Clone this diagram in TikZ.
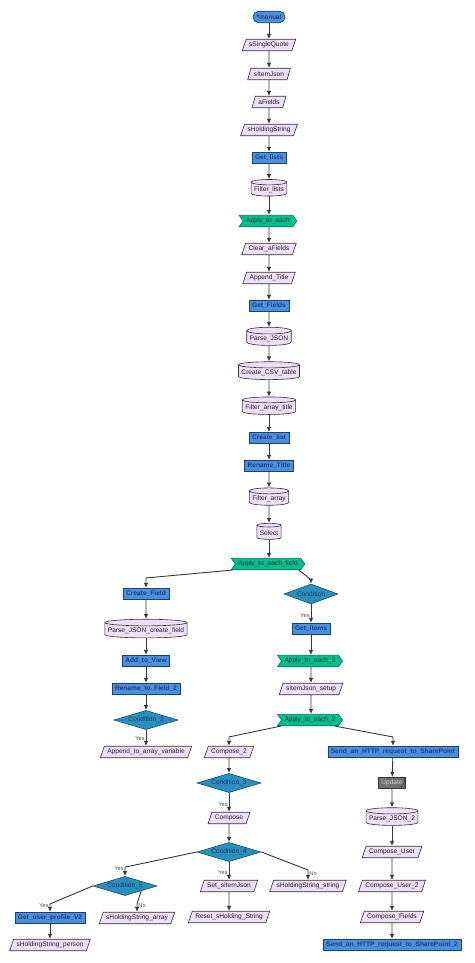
\documentclass[tikz,border=0pt]{standalone}
\usepackage{fontspec}
\setmainfont{Liberation Sans}
\usepackage{xcolor}
\usetikzlibrary{arrows.meta,positioning,shapes.geometric,shapes.symbols}
\definecolor{actfill}{HTML}{4A90E2}
\definecolor{actline}{HTML}{1F3F6E}
\definecolor{varfill}{HTML}{ECDFF7}
\definecolor{loopfill}{HTML}{00C08B}
\definecolor{loopline}{HTML}{00795A}
\definecolor{condfill}{HTML}{2A8FBD}
\definecolor{condline}{HTML}{174F6B}
\definecolor{condtext}{HTML}{123E66}
\definecolor{updfill}{HTML}{707070}
\tikzset{
  nodebox/.style={draw=black!80, line width=0.6pt, font=\fontsize{6.6}{7}\selectfont, text=black!85, inner xsep=3pt, inner ysep=1.8pt, minimum height=11.5pt},
  startnode/.style={nodebox, fill=actfill, draw=actline, rounded corners=5.5pt, minimum width=32pt},
  actnode/.style={nodebox, fill=actfill, draw=actline, font=\fontsize{6.6}{7}\selectfont\bfseries, text=actline},
  varnode/.style={nodebox, trapezium, trapezium left angle=68, trapezium right angle=112, trapezium stretches body, fill=varfill},
  datanode/.style={nodebox, cylinder, shape border rotate=90, aspect=0.15, fill=varfill, minimum height=16pt},
  loopnode/.style={nodebox, signal, signal to=east, signal from=west, signal pointer angle=110, fill=loopfill, draw=loopline, text=black!80},
  condnode/.style={nodebox, diamond, aspect=3, inner sep=0.5pt, fill=condfill, draw=condline, text=condtext, minimum width=64pt, minimum height=18pt},
  updnode/.style={nodebox, fill=updfill, text=black!20},
  arc/.style={-{Latex[length=5pt,width=4.4pt]}, line width=0.9pt, draw=black!78},
  lbl/.style={font=\fontsize{5.6}{6}\selectfont, text=black!70, inner sep=1pt}
}
\begin{document}
\begin{tikzpicture}[x=1pt,y=-1pt]
  \useasboundingbox (0,0) rectangle (474,963);
  \node[startnode] (manual) at (269,17) {*manual};
  \node[varnode] (squote) at (269,45) {sSingleQuote};
  \node[varnode] (itemjson) at (269,74) {sItemJson};
  \node[varnode] (afields) at (269,102) {aFields};
  \node[varnode] (holding) at (269,130) {sHoldingString};
  \node[actnode] (getlists) at (269,158) {Get\_lists};
  \node[datanode] (filterlists) at (269,190) {Filter\_lists};
  \node[loopnode] (eachloop) at (268,221) {Apply\_to\_each};
  \node[varnode] (clearaf) at (269,249) {Clear\_aFields};
  \node[varnode] (apptitle) at (269,278) {Append\_Title};
  \node[actnode] (getfields) at (269,306) {Get\_Fields};
  \node[datanode] (parsejson) at (269,339) {Parse\_JSON};
  \node[datanode, aspect=0.1] (csvtable) at (269,373) {Create\_CSV\_table};
  \node[datanode, aspect=0.11] (filtertitle) at (269,408) {Filter\_array\_title};
  \node[actnode] (createlist) at (269,438) {Create\_list};
  \node[actnode] (renametitle) at (269,466) {Rename\_Title};
  \node[datanode] (filterarr) at (269,499) {Filter\_array};
  \node[datanode] (select) at (269,533) {Select};
  \node[loopnode] (fieldloop) at (268,564) {Apply\_to\_each\_field};

  \node[actnode] (createfield) at (146,594) {Create\_Field};
  \node[datanode, aspect=0.08] (parsefield) at (146,631) {Parse\_JSON\_create\_field};
  \node[actnode] (addview) at (146,661) {Add\_to\_View};
  \node[actnode] (renamefield) at (146,689) {Rename\_to\_Field\_2};
  \node[condnode] (cond2) at (146,720) {Condition\_2};
  \node[varnode] (appendarr) at (146,752) {Append\_to\_array\_variable};

  \node[condnode, minimum width=54pt, minimum height=20pt] (cond) at (311,594) {Condition};
  \node[actnode] (getitems) at (311,629) {Get\_items};
  \node[loopnode] (loop3) at (310,661) {Apply\_to\_each\_3};
  \node[varnode] (itemsetup) at (311,689) {sItemJson\_setup};
  \node[loopnode] (loop2) at (310,720) {Apply\_to\_each\_2};

  \node[varnode] (compose2) at (229,752) {Compose\_2};
  \node[condnode] (cond3) at (229,783) {Condition\_3};
  \node[varnode] (compose) at (229,818) {Compose};
  \node[condnode] (cond4) at (229,852) {Condition\_4};
  \node[varnode] (setitem) at (229,886) {Set\_sItemJson};
  \node[varnode] (resetholding) at (229,917) {Reset\_sHolding\_String};
  \node[varnode] (hsstring) at (308,886) {sHoldingString\_string};

  \node[condnode] (cond5) at (125,886) {Condition\_5};
  \node[actnode] (userprofile) at (50,918) {Get\_user\_profile\_V2};
  \node[varnode] (hsperson) at (50,945) {sHoldingString\_person};
  \node[varnode] (hsarray) at (137,918) {sHoldingString\_array};

  \node[actnode] (httpreq) at (393,752) {Send\_an\_HTTP\_request\_to\_SharePoint};
  \node[updnode] (update) at (392,783) {Update};
  \draw[black!85, line width=0.4pt] ([xshift=-1.5pt,yshift=-1.5pt]update.north east) to[bend left=25] ([xshift=-5pt,yshift=1.5pt]update.south east);
  \node[datanode, aspect=0.12] (parsejson2) at (392,819) {Parse\_JSON\_2};
  \node[varnode] (compuser) at (392,852) {Compose\_User};
  \node[varnode] (compuser2) at (392,886) {Compose\_User\_2};
  \node[varnode] (compfields) at (392,917) {Compose\_Fields};
  \node[actnode] (httpreq2) at (392,945) {Send\_an\_HTTP\_request\_to\_SharePoint\_2};

  \draw[arc] (manual) -- (squote);
  \draw[arc] (squote) -- (itemjson);
  \draw[arc] (itemjson) -- (afields);
  \draw[arc] (afields) -- (holding);
  \draw[arc] (holding) -- (getlists);
  \draw[arc] (getlists) -- (filterlists);
  \draw[arc] (filterlists) -- (filterlists |- eachloop.north);
  \draw[arc] (eachloop.south -| clearaf) -- (clearaf);
  \draw[arc] (clearaf) -- (apptitle);
  \draw[arc] (apptitle) -- (getfields);
  \draw[arc] (getfields) -- (parsejson);
  \draw[arc] (parsejson) -- (csvtable);
  \draw[arc] (csvtable) -- (filtertitle);
  \draw[arc] (filtertitle) -- (createlist);
  \draw[arc] (createlist) -- (renametitle);
  \draw[arc] (renametitle) -- (filterarr);
  \draw[arc] (filterarr) -- (select);
  \draw[arc] (select) -- (select |- fieldloop.north);

  \draw[arc] ([xshift=2pt]fieldloop.south west) -- ([yshift=10pt]createfield.north) -- (createfield);
  \draw[arc] (createfield) -- (parsefield);
  \draw[arc] (parsefield) -- (addview);
  \draw[arc] (addview) -- (renamefield);
  \draw[arc] (renamefield) -- (cond2);
  \draw[arc] (cond2) -- node[lbl, pos=0.55, left] {Yes} (appendarr);

  \draw[arc] ([xshift=-2pt]fieldloop.south east) -- ([yshift=4pt]cond.north) -- (cond);
  \draw[arc] (cond) -- node[lbl, pos=0.6, left] {Yes} (getitems);
  \draw[arc] (getitems) -- (getitems |- loop3.north);
  \draw[arc] (loop3.south -| itemsetup) -- (itemsetup);
  \draw[arc] (itemsetup) -- (itemsetup |- loop2.north);

  \draw[arc] ([xshift=4pt]loop2.south west) -- ([yshift=9pt]compose2.north) -- (compose2);
  \draw[arc] (compose2) -- (cond3);
  \draw[arc] (cond3) -- node[lbl, pos=0.6, left] {Yes} (compose);
  \draw[arc] (compose) -- (cond4);
  \draw[arc] (cond4) -- node[lbl, pos=0.6, left] {Yes} (setitem);
  \draw[arc] (setitem) -- (resetholding);
  \draw[arc] (cond4.east) -- ([yshift=10pt]hsstring.north) -- node[lbl, pos=0.4, right] {No} (hsstring);

  \draw[arc] (cond4.west) -- ([yshift=9pt]cond5.north) -- node[lbl, pos=0.2, left] {Yes} (cond5);
  \draw[arc] (cond5.west) -- ([yshift=8pt]userprofile.north) -- node[lbl, pos=0.2, left] {Yes} (userprofile);
  \draw[arc] (userprofile) -- (hsperson);
  \draw[arc] (cond5.south east) -- ([yshift=8pt]hsarray.north) -- node[lbl, pos=0.2, right] {No} (hsarray);

  \draw[arc] ([xshift=-4pt]loop2.south east) -- ([yshift=9pt]httpreq.north) -- (httpreq);
  \draw[arc] (httpreq) -- (update);
  \draw[arc] (update) -- (parsejson2);
  \draw[arc] (parsejson2) -- (compuser);
  \draw[arc] (compuser) -- (compuser2);
  \draw[arc] (compuser2) -- (compfields);
  \draw[arc] (compfields) -- (httpreq2);
\end{tikzpicture}
\end{document}
